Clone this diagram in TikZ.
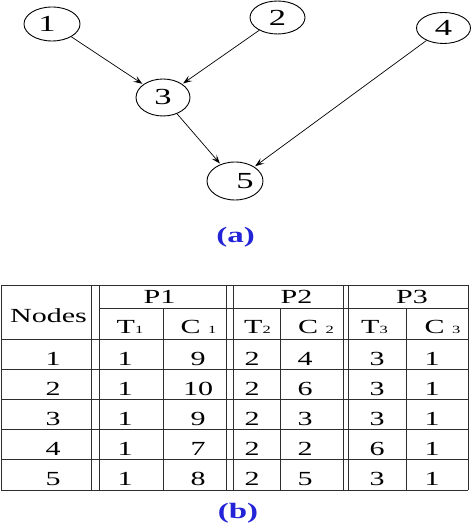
\documentclass[tikz,border=0pt]{standalone}
\usepackage{fontspec}
\setmainfont{Liberation Serif}[FakeStretch=1.5]
\usetikzlibrary{shapes.geometric,arrows.meta}
\definecolor{capblue}{RGB}{35,35,215}
\definecolor{rulecol}{RGB}{45,45,45}
\newcommand{\sub}[1]{{\fontsize{11}{11}\selectfont #1}}
\begin{document}
\begin{tikzpicture}[x=1pt,y=-1pt,
  gnode/.style={draw,ellipse,inner sep=0pt,line width=0.9pt,font=\fontsize{23}{24}\selectfont},
  edge/.style={-{Stealth[length=9pt,width=6.5pt,inset=4pt]},line width=0.7pt,shorten >=1pt},
  captext/.style={text=capblue,inner sep=0pt,font=\fontsize{22}{24}\selectfont\bfseries},
  cell/.style={anchor=base,inner sep=0pt,font=\fontsize{20}{20}\selectfont},
  grid/.style={draw=rulecol,line width=1pt}]
\useasboundingbox (0,0) rectangle (474,526);
% graph
\node[gnode,minimum width=56pt,minimum height=34pt] (n1) at (52,24) {\makebox[0pt]{1\hspace{10pt}}};
\node[gnode,minimum width=55pt,minimum height=33pt] (n2) at (277.5,17.5) {2};
\node[gnode,minimum width=54pt,minimum height=37pt] (n3) at (163,97.5) {3};
\node[gnode,minimum width=54pt,minimum height=31pt] (n4) at (443.5,28) {4};
\node[gnode,minimum width=56pt,minimum height=38pt] (n5) at (235,181) {\makebox[0pt]{\hspace{20pt}5}};
\draw[edge] (n1) -- (n3);
\draw[edge] (n2) -- (n3);
\draw[edge] (n3) -- (n5);
\draw[edge] (n4) -- (n5);
\node[captext] (capa) at (235.5,237) {(a)};
% table grid
\draw[grid] (1,285) -- (468,285);
\draw[grid] (99,308) -- (468,308);
\foreach \yy in {339,369,399,429,459,490} {\draw[grid] (1,\yy) -- (468,\yy);}
\foreach \xx in {1,91,99,226,233,343,348,468} {\draw[grid] (\xx,285) -- (\xx,490);}
\foreach \xx in {163,280,406} {\draw[grid] (\xx,308) -- (\xx,490);}
% header
\node[cell] (hn) at (48.5,322) {Nodes};
\node[cell] (hp1) at (159.5,303) {P1};
\node[cell] (hp2) at (296.5,303) {P2};
\node[cell] (hp3) at (412,303) {P3};
\node[cell] (ht1) at (130,333) {T\sub{1}};
\node[cell] (hc1) at (198.5,333) {C \sub{1}};
\node[cell] (ht2) at (257.5,333) {T\sub{2}};
\node[cell] (hc2) at (316,333) {C \sub{2}};
\node[cell] (ht3) at (374.5,333) {T\sub{3}};
\node[cell] (hc3) at (442.5,333) {C \sub{3}};
% data
\foreach \vals [count=\r] in {{1,1,9,2,4,3,1},{2,1,10,2,6,3,1},{3,1,9,2,3,3,1},{4,1,7,2,2,6,1},{5,1,8,2,5,3,1}} {
  \foreach \v [count=\c] in \vals {
    \pgfmathsetmacro{\cx}{{53,125,198,252,305,377,432}[\c-1]}
    \pgfmathsetmacro{\cy}{335+30*\r}
    \node[cell] (d\r-\c) at (\cx,\cy) {\v};
  }
}
\node[captext] (capb) at (238,513) {(b)};
\end{tikzpicture}
\end{document}
